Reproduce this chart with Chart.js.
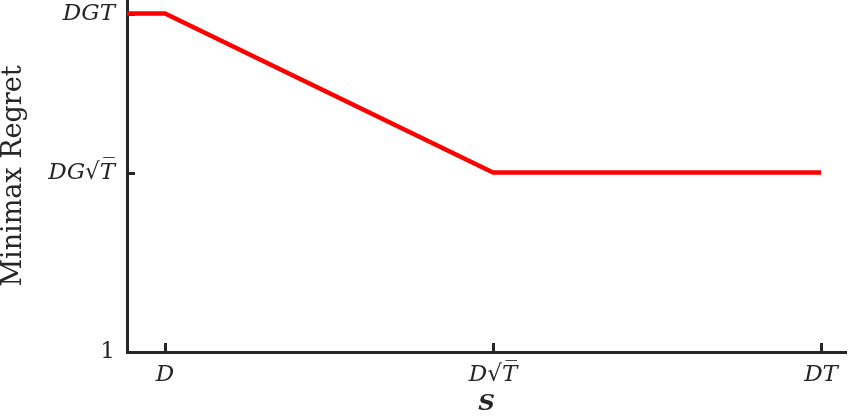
<!DOCTYPE html>
<html>
<head>
<meta charset="utf-8">
<script src="https://cdn.jsdelivr.net/npm/chart.js@4/dist/chart.umd.min.js"></script>
<style>
html,body{margin:0;padding:0;background:#fff;}
#wrap{width:848px;height:416px;}
</style>
</head>
<body>
<div id="wrap"><canvas id="c" width="848" height="416"></canvas></div>
<script>
// Tick positions (log-units) and labels
const sTickPos = [1, 2, 3];
const sTickLabels = ['D', 'D√T̅', 'DT'];
const regretTickPos = [0, 0.53, 1];
const regretTickLabels = ['1', 'DG√T̅', 'DGT'];
// Series (log-units)
const sValues = [0.884, 1, 2, 3];
const regretValues = [1, 1, 0.53, 0.53];

const axisColor = '#262626';

const inwardTicks = {
  id: 'inwardTicks',
  beforeDatasetsDraw(chart) {
    const ctx = chart.ctx;
    const xs = chart.scales.x, ys = chart.scales.y;
    const ca = chart.chartArea;
    ctx.save();
    ctx.strokeStyle = axisColor;
    ctx.lineWidth = 3;
    ctx.beginPath();
    sTickPos.forEach(v => {
      const px = Math.round(xs.getPixelForValue(v)) + 0.5;
      ctx.moveTo(px, ca.bottom);
      ctx.lineTo(px, ca.bottom - 9);
    });
    regretTickPos.forEach(v => {
      if (v === ys.min) return;
      const py = Math.round(ys.getPixelForValue(v)) + 0.5;
      ctx.moveTo(ca.left, py);
      ctx.lineTo(ca.left + 8, py);
    });
    ctx.stroke();
    ctx.restore();
  }
};

new Chart(document.getElementById('c'), {
  type: 'line',
  data: {
    datasets: [{
      data: sValues.map((s, i) => ({x: s, y: regretValues[i]})),
      borderColor: '#ff0000',
      borderWidth: 4.5,
      pointRadius: 0,
      tension: 0,
      fill: false,
      clip: false
    }]
  },
  options: {
    responsive: false,
    animation: false,
    devicePixelRatio: 1,
    layout: {padding: {left: 0, right: 2, top: 0, bottom: 0}},
    plugins: {legend: {display: false}, tooltip: {enabled: false}},
    scales: {
      x: {
        type: 'linear',
        min: 0.884,
        max: 3.076,
        grid: {display: false},
        border: {display: true, color: axisColor, width: 3},
        afterFit: s => { s.height = 64; s.paddingLeft = 0; s.paddingRight = 0; },
        afterBuildTicks: s => { s.ticks = sTickPos.map(v => ({value: v})); },
        ticks: {
          autoSkip: false,
          maxRotation: 0,
          padding: 1,
          color: axisColor,
          font: {family: 'DejaVu Serif', style: 'italic', size: 23},
          callback: (v) => sTickLabels[sTickPos.indexOf(v)]
        },
        title: {
          display: true,
          text: 'S',
          color: axisColor,
          padding: 0,
          font: {family: 'DejaVu Serif', style: 'italic', weight: 'bold', size: 23, lineHeight: 1}
        }
      },
      y: {
        type: 'linear',
        min: 0,
        max: 1.04,
        grid: {display: false},
        border: {display: true, color: axisColor, width: 3},
        afterFit: s => { s.width = 127; s.paddingTop = 0; s.paddingBottom = 0; },
        afterBuildTicks: s => { s.ticks = regretTickPos.map(v => ({value: v})); },
        ticks: {
          autoSkip: false,
          padding: 4,
          color: axisColor,
          font: (ctx) => {
            const isOne = ctx.tick && ctx.tick.value === 0;
            return isOne ? {family: 'DejaVu Serif', size: 23} : {family: 'DejaVu Serif', style: 'italic', size: 23};
          },
          callback: (v) => regretTickLabels[regretTickPos.indexOf(v)]
        },
        title: {
          display: true,
          text: 'Minimax Regret',
          color: axisColor,
          padding: 0,
          font: {family: 'DejaVu Serif', size: 27, lineHeight: 1}
        }
      }
    }
  },
  plugins: [inwardTicks]
});
</script>
</body>
</html>
